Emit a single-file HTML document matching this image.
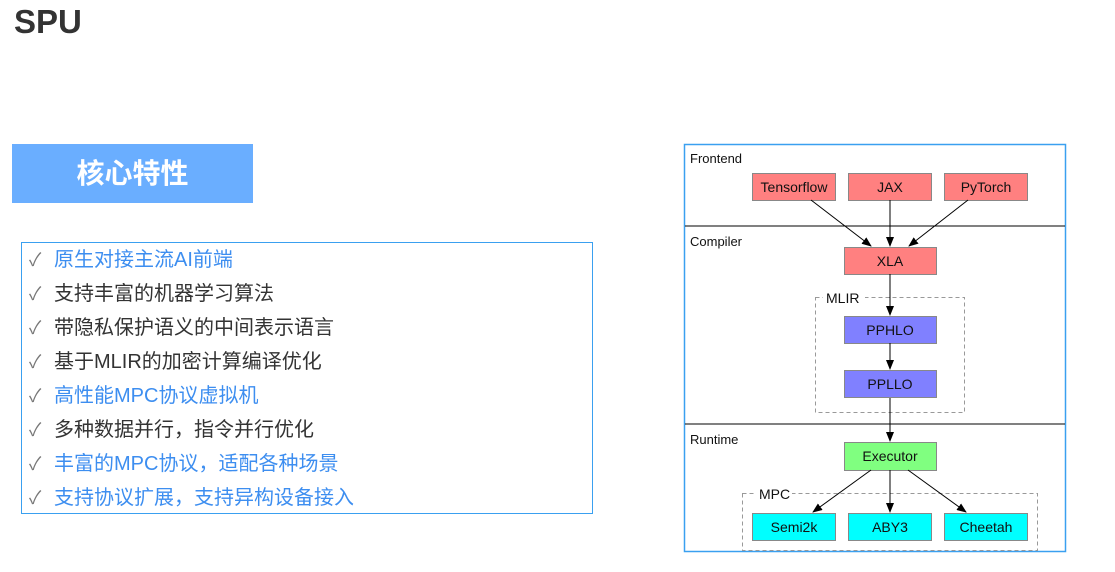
<!DOCTYPE html>
<html><head><meta charset="utf-8"><style>
body{margin:0;width:1115px;height:572px;background:#fff;position:relative;overflow:hidden;font-family:"Liberation Sans","Noto Sans CJK SC",sans-serif}
.t{position:absolute;left:14px;top:3px;font-size:33px;font-weight:bold;color:#333}
.h{position:absolute;left:12px;top:144px;width:241px;height:59px;background:#6aaeff;color:#fff;font-size:28px;font-weight:bold;text-align:center;line-height:59px}
.l{position:absolute;left:21px;top:242px;width:570px;height:270px;border:1.5px solid #3aa0f0}
.r{position:absolute;left:7px;font-size:20px;color:#333;white-space:nowrap}
.r b{font-weight:normal;color:#777;margin-right:7px;font-size:18px;display:inline-block;width:18px}
.r.bl{color:#3d8ef0}
</style></head><body>
<div class="t">SPU</div>
<div class="h">核心特性</div>
<div class="l">
<div class="r bl" style="top:0px"><b>✓</b>原生对接主流AI前端</div>
<div class="r" style="top:34px"><b>✓</b>支持丰富的机器学习算法</div>
<div class="r" style="top:68px"><b>✓</b>带隐私保护语义的中间表示语言</div>
<div class="r" style="top:102px"><b>✓</b>基于MLIR的加密计算编译优化</div>
<div class="r bl" style="top:136px"><b>✓</b>高性能MPC协议虚拟机</div>
<div class="r" style="top:170px"><b>✓</b>多种数据并行，指令并行优化</div>
<div class="r bl" style="top:204px"><b>✓</b>丰富的MPC协议，适配各种场景</div>
<div class="r bl" style="top:238px"><b>✓</b>支持协议扩展，支持异构设备接入</div>
</div>
<svg style="position:absolute;left:0;top:0" width="1115" height="572" font-family="Liberation Sans,sans-serif" font-size="14">
<defs><marker id="a" markerWidth="10" markerHeight="8" refX="9" refY="4" orient="auto" markerUnits="userSpaceOnUse"><path d="M0,0L10,4L0,8z" fill="#000"/></marker></defs>
<rect x="684.5" y="144.5" width="381" height="407" fill="none" stroke="#3aa0f0" stroke-width="1.5"/>
<line x1="685" y1="226" x2="1065" y2="226" stroke="#000"/>
<line x1="685" y1="424" x2="1065" y2="424" stroke="#000"/>
<text x="690" y="163" fill="#111" font-size="13">Frontend</text>
<text x="690" y="246" fill="#111" font-size="13">Compiler</text>
<text x="690" y="444" fill="#111" font-size="13">Runtime</text>
<rect x="815.5" y="297.5" width="149" height="115" fill="none" stroke="#999" stroke-dasharray="4,3"/>
<rect x="823" y="290" width="42" height="14" fill="#fff"/><text x="826" y="303" fill="#111">MLIR</text>
<rect x="742.5" y="493.5" width="295" height="57" fill="none" stroke="#999" stroke-dasharray="4,3"/>
<rect x="756" y="486" width="36" height="14" fill="#fff"/><text x="759" y="499" fill="#111">MPC</text>
<g stroke="#888">
<rect x="752.5" y="173.5" width="83" height="27" fill="#ff8080"/>
<rect x="848.5" y="173.5" width="83" height="27" fill="#ff8080"/>
<rect x="944.5" y="173.5" width="83" height="27" fill="#ff8080"/>
<rect x="844.5" y="247.5" width="92" height="27" fill="#ff8080"/>
<rect x="844.5" y="316.5" width="92" height="27" fill="#8080ff"/>
<rect x="844.5" y="370.5" width="92" height="27" fill="#8080ff"/>
<rect x="844.5" y="442.5" width="92" height="28" fill="#80ff80"/>
<rect x="752.5" y="513.5" width="83" height="27" fill="#00ffff"/>
<rect x="848.5" y="513.5" width="83" height="27" fill="#00ffff"/>
<rect x="944.5" y="513.5" width="83" height="27" fill="#00ffff"/>
</g>
<g fill="#111" text-anchor="middle">
<text x="794" y="192">Tensorflow</text><text x="890" y="192">JAX</text><text x="986" y="192">PyTorch</text>
<text x="890" y="266">XLA</text><text x="890" y="335">PPHLO</text><text x="890" y="389">PPLLO</text>
<text x="890" y="461">Executor</text>
<text x="794" y="532">Semi2k</text><text x="890" y="532">ABY3</text><text x="986" y="532">Cheetah</text>
</g>
<g stroke="#000" marker-end="url(#a)">
<line x1="811" y1="200" x2="871" y2="246"/>
<line x1="890" y1="200" x2="890" y2="246"/>
<line x1="968" y1="200" x2="909" y2="246"/>
<line x1="890" y1="274" x2="890" y2="315"/>
<line x1="890" y1="343" x2="890" y2="369"/>
<line x1="890" y1="398" x2="890" y2="441"/>
<line x1="871" y1="470" x2="813" y2="512"/>
<line x1="890" y1="470" x2="890" y2="512"/>
<line x1="908" y1="470" x2="966" y2="512"/>
</g>
</svg>
</body></html>
